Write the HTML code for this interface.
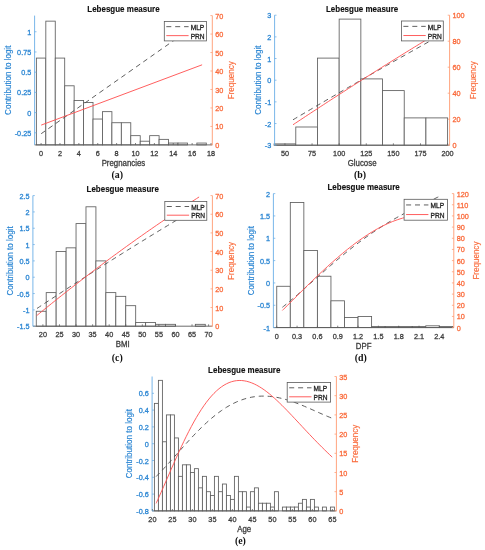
<!DOCTYPE html>
<html><head><meta charset="utf-8"><style>
html,body{margin:0;padding:0;background:#fff;}
body{width:485px;height:550px;overflow:hidden;}
svg{display:block;filter:blur(0.3px);}
text{font-family:"Liberation Sans",sans-serif;}
.tk{font-size:7.3px;}
.lb{font-size:8.05px;}
.xl{font-size:7.85px;}
.tt{font-size:8.0px;font-weight:bold;fill:#111;}
.lg{font-size:6.6px;fill:#222;}
.cp{font-family:"Liberation Serif",serif;font-size:9.9px;font-weight:bold;fill:#111;}
</style></head><body>
<svg width="485" height="550" viewBox="0 0 485 550">
<rect width="485" height="550" fill="#fff"/>
<rect x="36.38" y="58.08" width="9.44" height="86.82" fill="#fff" stroke="#5e5e5e" stroke-width="0.85"/>
<rect x="45.82" y="21.14" width="9.44" height="123.76" fill="#fff" stroke="#5e5e5e" stroke-width="0.85"/>
<rect x="55.26" y="58.08" width="9.44" height="86.82" fill="#fff" stroke="#5e5e5e" stroke-width="0.85"/>
<rect x="64.70" y="85.79" width="9.44" height="59.11" fill="#fff" stroke="#5e5e5e" stroke-width="0.85"/>
<rect x="74.14" y="100.57" width="9.44" height="44.33" fill="#fff" stroke="#5e5e5e" stroke-width="0.85"/>
<rect x="83.58" y="102.42" width="9.44" height="42.48" fill="#fff" stroke="#5e5e5e" stroke-width="0.85"/>
<rect x="93.02" y="119.04" width="9.44" height="25.86" fill="#fff" stroke="#5e5e5e" stroke-width="0.85"/>
<rect x="102.46" y="111.65" width="9.44" height="33.25" fill="#fff" stroke="#5e5e5e" stroke-width="0.85"/>
<rect x="111.90" y="122.73" width="9.44" height="22.17" fill="#fff" stroke="#5e5e5e" stroke-width="0.85"/>
<rect x="121.34" y="122.73" width="9.44" height="22.17" fill="#fff" stroke="#5e5e5e" stroke-width="0.85"/>
<rect x="130.78" y="135.66" width="9.44" height="9.24" fill="#fff" stroke="#5e5e5e" stroke-width="0.85"/>
<rect x="140.22" y="141.21" width="9.44" height="3.69" fill="#fff" stroke="#5e5e5e" stroke-width="0.85"/>
<rect x="149.66" y="135.66" width="9.44" height="9.24" fill="#fff" stroke="#5e5e5e" stroke-width="0.85"/>
<rect x="159.10" y="139.36" width="9.44" height="5.54" fill="#fff" stroke="#5e5e5e" stroke-width="0.85"/>
<rect x="168.54" y="143.05" width="9.44" height="1.85" fill="#fff" stroke="#5e5e5e" stroke-width="0.85"/>
<rect x="177.98" y="143.05" width="9.44" height="1.85" fill="#fff" stroke="#5e5e5e" stroke-width="0.85"/>
<rect x="196.86" y="143.05" width="9.44" height="1.85" fill="#fff" stroke="#5e5e5e" stroke-width="0.85"/>
<path d="M41.20,133.70 C63.42,118.08 149.70,57.43 174.50,40.00 C199.30,22.57 187.42,30.92 190.00,29.10" fill="none" stroke="#4d4d4d" stroke-width="0.9" stroke-dasharray="5.0 3.9" stroke-linejoin="round"/>
<path d="M41.20,125.10 L202.10,64.80" fill="none" stroke="#ff4d4d" stroke-width="0.9" stroke-linejoin="round"/>
<line x1="34.6" y1="144.9" x2="212.3" y2="144.9" stroke="#5a5a5a" stroke-width="0.9"/>
<line x1="34.6" y1="15.6" x2="34.6" y2="144.9" stroke="#6aaee6" stroke-width="0.9"/>
<line x1="212.3" y1="15.6" x2="212.3" y2="144.9" stroke="#ff9a70" stroke-width="0.9"/>
<line x1="41.10" y1="144.9" x2="41.10" y2="143.0" stroke="#5a5a5a" stroke-width="0.75"/>
<text transform="translate(41.10,156.10) scale(1,1.1)" class="tk" fill="#3d3d3d" stroke="#3d3d3d" stroke-width="0.28" text-anchor="middle">0</text>
<line x1="59.98" y1="144.9" x2="59.98" y2="143.0" stroke="#5a5a5a" stroke-width="0.75"/>
<text transform="translate(59.98,156.10) scale(1,1.1)" class="tk" fill="#3d3d3d" stroke="#3d3d3d" stroke-width="0.28" text-anchor="middle">2</text>
<line x1="78.86" y1="144.9" x2="78.86" y2="143.0" stroke="#5a5a5a" stroke-width="0.75"/>
<text transform="translate(78.86,156.10) scale(1,1.1)" class="tk" fill="#3d3d3d" stroke="#3d3d3d" stroke-width="0.28" text-anchor="middle">4</text>
<line x1="97.74" y1="144.9" x2="97.74" y2="143.0" stroke="#5a5a5a" stroke-width="0.75"/>
<text transform="translate(97.74,156.10) scale(1,1.1)" class="tk" fill="#3d3d3d" stroke="#3d3d3d" stroke-width="0.28" text-anchor="middle">6</text>
<line x1="116.62" y1="144.9" x2="116.62" y2="143.0" stroke="#5a5a5a" stroke-width="0.75"/>
<text transform="translate(116.62,156.10) scale(1,1.1)" class="tk" fill="#3d3d3d" stroke="#3d3d3d" stroke-width="0.28" text-anchor="middle">8</text>
<line x1="135.50" y1="144.9" x2="135.50" y2="143.0" stroke="#5a5a5a" stroke-width="0.75"/>
<text transform="translate(135.50,156.10) scale(1,1.1)" class="tk" fill="#3d3d3d" stroke="#3d3d3d" stroke-width="0.28" text-anchor="middle">10</text>
<line x1="154.38" y1="144.9" x2="154.38" y2="143.0" stroke="#5a5a5a" stroke-width="0.75"/>
<text transform="translate(154.38,156.10) scale(1,1.1)" class="tk" fill="#3d3d3d" stroke="#3d3d3d" stroke-width="0.28" text-anchor="middle">12</text>
<line x1="173.26" y1="144.9" x2="173.26" y2="143.0" stroke="#5a5a5a" stroke-width="0.75"/>
<text transform="translate(173.26,156.10) scale(1,1.1)" class="tk" fill="#3d3d3d" stroke="#3d3d3d" stroke-width="0.28" text-anchor="middle">14</text>
<line x1="192.14" y1="144.9" x2="192.14" y2="143.0" stroke="#5a5a5a" stroke-width="0.75"/>
<text transform="translate(192.14,156.10) scale(1,1.1)" class="tk" fill="#3d3d3d" stroke="#3d3d3d" stroke-width="0.28" text-anchor="middle">16</text>
<line x1="211.02" y1="144.9" x2="211.02" y2="143.0" stroke="#5a5a5a" stroke-width="0.75"/>
<text transform="translate(211.02,156.10) scale(1,1.1)" class="tk" fill="#3d3d3d" stroke="#3d3d3d" stroke-width="0.28" text-anchor="middle">18</text>
<line x1="34.6" y1="132.78" x2="36.5" y2="132.78" stroke="#6aaee6" stroke-width="0.75"/>
<text transform="translate(31.30,135.83) scale(1,1.1)" class="tk" fill="#2b86d3" stroke="#2b86d3" stroke-width="0.28" text-anchor="end">-0.25</text>
<line x1="34.6" y1="112.58" x2="36.5" y2="112.58" stroke="#6aaee6" stroke-width="0.75"/>
<text transform="translate(31.30,115.62) scale(1,1.1)" class="tk" fill="#2b86d3" stroke="#2b86d3" stroke-width="0.28" text-anchor="end">0</text>
<line x1="34.6" y1="92.37" x2="36.5" y2="92.37" stroke="#6aaee6" stroke-width="0.75"/>
<text transform="translate(31.30,95.42) scale(1,1.1)" class="tk" fill="#2b86d3" stroke="#2b86d3" stroke-width="0.28" text-anchor="end">0.25</text>
<line x1="34.6" y1="72.17" x2="36.5" y2="72.17" stroke="#6aaee6" stroke-width="0.75"/>
<text transform="translate(31.30,75.22) scale(1,1.1)" class="tk" fill="#2b86d3" stroke="#2b86d3" stroke-width="0.28" text-anchor="end">0.5</text>
<line x1="34.6" y1="51.97" x2="36.5" y2="51.97" stroke="#6aaee6" stroke-width="0.75"/>
<text transform="translate(31.30,55.02) scale(1,1.1)" class="tk" fill="#2b86d3" stroke="#2b86d3" stroke-width="0.28" text-anchor="end">0.75</text>
<line x1="34.6" y1="31.76" x2="36.5" y2="31.76" stroke="#6aaee6" stroke-width="0.75"/>
<text transform="translate(31.30,34.81) scale(1,1.1)" class="tk" fill="#2b86d3" stroke="#2b86d3" stroke-width="0.28" text-anchor="end">1</text>
<line x1="212.3" y1="144.90" x2="210.4" y2="144.90" stroke="#ff9a70" stroke-width="0.75"/>
<text transform="translate(215.20,147.95) scale(1,1.1)" class="tk" fill="#fa6a3a" stroke="#fa6a3a" stroke-width="0.28">0</text>
<line x1="212.3" y1="126.43" x2="210.4" y2="126.43" stroke="#ff9a70" stroke-width="0.75"/>
<text transform="translate(215.20,129.48) scale(1,1.1)" class="tk" fill="#fa6a3a" stroke="#fa6a3a" stroke-width="0.28">10</text>
<line x1="212.3" y1="107.96" x2="210.4" y2="107.96" stroke="#ff9a70" stroke-width="0.75"/>
<text transform="translate(215.20,111.01) scale(1,1.1)" class="tk" fill="#fa6a3a" stroke="#fa6a3a" stroke-width="0.28">20</text>
<line x1="212.3" y1="89.49" x2="210.4" y2="89.49" stroke="#ff9a70" stroke-width="0.75"/>
<text transform="translate(215.20,92.54) scale(1,1.1)" class="tk" fill="#fa6a3a" stroke="#fa6a3a" stroke-width="0.28">30</text>
<line x1="212.3" y1="71.01" x2="210.4" y2="71.01" stroke="#ff9a70" stroke-width="0.75"/>
<text transform="translate(215.20,74.06) scale(1,1.1)" class="tk" fill="#fa6a3a" stroke="#fa6a3a" stroke-width="0.28">40</text>
<line x1="212.3" y1="52.54" x2="210.4" y2="52.54" stroke="#ff9a70" stroke-width="0.75"/>
<text transform="translate(215.20,55.59) scale(1,1.1)" class="tk" fill="#fa6a3a" stroke="#fa6a3a" stroke-width="0.28">50</text>
<line x1="212.3" y1="34.07" x2="210.4" y2="34.07" stroke="#ff9a70" stroke-width="0.75"/>
<text transform="translate(215.20,37.12) scale(1,1.1)" class="tk" fill="#fa6a3a" stroke="#fa6a3a" stroke-width="0.28">60</text>
<line x1="212.3" y1="15.60" x2="210.4" y2="15.60" stroke="#ff9a70" stroke-width="0.75"/>
<text transform="translate(215.20,18.65) scale(1,1.1)" class="tk" fill="#fa6a3a" stroke="#fa6a3a" stroke-width="0.28">70</text>
<rect x="164.3" y="21.4" width="42.10" height="19.50" fill="#fff" stroke="#5a5a5a" stroke-width="0.8"/>
<line x1="166.30" y1="26.66" x2="188.60" y2="26.66" stroke="#4d4d4d" stroke-width="0.9" stroke-dasharray="5.0 3.9"/>
<line x1="166.30" y1="35.63" x2="188.60" y2="35.63" stroke="#ff4d4d" stroke-width="0.9"/>
<text transform="translate(190.70,29.80) scale(1,1.1)" class="lg" fill="#222" stroke="#222" stroke-width="0.28">MLP</text>
<text transform="translate(190.70,38.77) scale(1,1.1)" class="lg" fill="#222" stroke="#222" stroke-width="0.28">PRN</text>
<text transform="translate(123.45,12.30) scale(1,1.1)" class="tt" fill="#111" stroke="#111" stroke-width="0.12" text-anchor="middle">Lebesgue measure</text>
<text transform="translate(123.45,165.60) scale(1,1.1)" class="xl" fill="#3d3d3d" stroke="#3d3d3d" stroke-width="0.28" text-anchor="middle">Pregnancies</text>
<text transform="translate(11.00,80.25) rotate(-90) scale(1,1.1)" class="lb" fill="#2b86d3" stroke="#2b86d3" stroke-width="0.15" text-anchor="middle">Contribution to logit</text>
<text transform="translate(233.50,80.25) rotate(-90) scale(1,1.1)" class="lb" fill="#fa6a3a" stroke="#fa6a3a" stroke-width="0.15" text-anchor="middle">Frequency</text>
<text transform="translate(117.30,178.30) scale(1,1.0)" class="cp" fill="#111" text-anchor="middle">(a)</text>
<rect x="274.10" y="143.90" width="21.69" height="1.30" fill="#fff" stroke="#5e5e5e" stroke-width="0.85"/>
<rect x="295.79" y="127.00" width="21.69" height="18.20" fill="#fff" stroke="#5e5e5e" stroke-width="0.85"/>
<rect x="317.48" y="58.10" width="21.69" height="87.10" fill="#fff" stroke="#5e5e5e" stroke-width="0.85"/>
<rect x="339.16" y="19.10" width="21.69" height="126.10" fill="#fff" stroke="#5e5e5e" stroke-width="0.85"/>
<rect x="360.85" y="78.90" width="21.69" height="66.30" fill="#fff" stroke="#5e5e5e" stroke-width="0.85"/>
<rect x="382.54" y="90.60" width="21.69" height="54.60" fill="#fff" stroke="#5e5e5e" stroke-width="0.85"/>
<rect x="404.23" y="117.90" width="21.69" height="27.30" fill="#fff" stroke="#5e5e5e" stroke-width="0.85"/>
<rect x="425.92" y="117.90" width="21.69" height="27.30" fill="#fff" stroke="#5e5e5e" stroke-width="0.85"/>
<path d="M293.00,119.79 C293.42,119.54 294.68,118.80 295.53,118.30 C296.37,117.80 297.21,117.30 298.05,116.80 C298.90,116.31 299.74,115.81 300.58,115.31 C301.42,114.82 302.27,114.32 303.11,113.82 C303.95,113.33 304.79,112.83 305.64,112.34 C306.48,111.84 307.32,111.34 308.16,110.85 C309.01,110.35 309.85,109.86 310.69,109.36 C311.53,108.87 312.38,108.38 313.22,107.88 C314.06,107.39 314.90,106.89 315.75,106.40 C316.59,105.91 317.43,105.41 318.27,104.92 C319.12,104.43 319.96,103.93 320.80,103.44 C321.64,102.95 322.48,102.46 323.33,101.96 C324.17,101.47 325.01,100.98 325.85,100.49 C326.70,100.00 327.54,99.51 328.38,99.02 C329.22,98.53 330.07,98.03 330.91,97.54 C331.75,97.05 332.59,96.56 333.44,96.07 C334.28,95.58 335.12,95.09 335.96,94.61 C336.81,94.12 337.65,93.63 338.49,93.14 C339.33,92.65 340.18,92.16 341.02,91.67 C341.86,91.18 342.70,90.70 343.55,90.21 C344.39,89.72 345.23,89.23 346.07,88.75 C346.92,88.26 347.76,87.77 348.60,87.29 C349.44,86.80 350.28,86.31 351.13,85.83 C351.97,85.34 352.81,84.85 353.65,84.37 C354.50,83.88 355.34,83.40 356.18,82.91 C357.02,82.43 357.87,81.94 358.71,81.46 C359.55,80.97 360.39,80.49 361.24,80.01 C362.08,79.52 362.92,79.04 363.76,78.56 C364.61,78.07 365.45,77.59 366.29,77.11 C367.13,76.62 367.98,76.14 368.82,75.66 C369.66,75.18 370.50,74.69 371.35,74.21 C372.19,73.73 373.03,73.25 373.87,72.77 C374.72,72.29 375.56,71.80 376.40,71.32 C377.24,70.84 378.08,70.36 378.93,69.88 C379.77,69.40 380.61,68.92 381.45,68.44 C382.30,67.96 383.14,67.48 383.98,67.00 C384.82,66.53 385.67,66.05 386.51,65.57 C387.35,65.09 388.19,64.61 389.04,64.13 C389.88,63.66 390.72,63.18 391.56,62.70 C392.41,62.22 393.25,61.74 394.09,61.27 C394.93,60.79 395.78,60.31 396.62,59.84 C397.46,59.36 398.30,58.89 399.15,58.41 C399.99,57.93 400.83,57.46 401.67,56.98 C402.52,56.51 403.36,56.03 404.20,55.56 C405.04,55.08 405.88,54.61 406.73,54.13 C407.57,53.66 408.41,53.18 409.25,52.71 C410.10,52.24 410.94,51.76 411.78,51.29 C412.62,50.82 413.47,50.34 414.31,49.87 C415.15,49.40 415.99,48.93 416.84,48.45 C417.68,47.98 418.52,47.51 419.36,47.04 C420.21,46.57 421.05,46.10 421.89,45.62 C422.73,45.15 423.58,44.68 424.42,44.21 C425.26,43.74 426.10,43.27 426.95,42.80 C427.79,42.33 428.63,41.86 429.47,41.39 C430.32,40.92 431.58,40.22 432.00,39.98" fill="none" stroke="#4d4d4d" stroke-width="0.9" stroke-dasharray="5.0 3.9" stroke-linejoin="round"/>
<path d="M293.00,124.76 C293.42,124.48 294.68,123.64 295.53,123.08 C296.37,122.53 297.21,121.97 298.05,121.41 C298.90,120.85 299.74,120.29 300.58,119.74 C301.42,119.18 302.27,118.62 303.11,118.07 C303.95,117.51 304.79,116.95 305.64,116.40 C306.48,115.84 307.32,115.29 308.16,114.73 C309.01,114.18 309.85,113.62 310.69,113.07 C311.53,112.52 312.38,111.96 313.22,111.41 C314.06,110.86 314.90,110.31 315.75,109.75 C316.59,109.20 317.43,108.65 318.27,108.10 C319.12,107.55 319.96,107.00 320.80,106.45 C321.64,105.90 322.48,105.35 323.33,104.80 C324.17,104.25 325.01,103.70 325.85,103.15 C326.70,102.60 327.54,102.06 328.38,101.51 C329.22,100.96 330.07,100.41 330.91,99.87 C331.75,99.32 332.59,98.77 333.44,98.23 C334.28,97.68 335.12,97.14 335.96,96.59 C336.81,96.05 337.65,95.50 338.49,94.96 C339.33,94.42 340.18,93.87 341.02,93.33 C341.86,92.79 342.70,92.24 343.55,91.70 C344.39,91.16 345.23,90.62 346.07,90.07 C346.92,89.53 347.76,88.99 348.60,88.45 C349.44,87.91 350.28,87.37 351.13,86.83 C351.97,86.29 352.81,85.75 353.65,85.21 C354.50,84.68 355.34,84.14 356.18,83.60 C357.02,83.06 357.87,82.52 358.71,81.99 C359.55,81.45 360.39,80.91 361.24,80.38 C362.08,79.84 362.92,79.31 363.76,78.77 C364.61,78.23 365.45,77.70 366.29,77.17 C367.13,76.63 367.98,76.10 368.82,75.56 C369.66,75.03 370.50,74.50 371.35,73.96 C372.19,73.43 373.03,72.90 373.87,72.37 C374.72,71.84 375.56,71.31 376.40,70.77 C377.24,70.24 378.08,69.71 378.93,69.18 C379.77,68.65 380.61,68.12 381.45,67.59 C382.30,67.07 383.14,66.54 383.98,66.01 C384.82,65.48 385.67,64.95 386.51,64.43 C387.35,63.90 388.19,63.37 389.04,62.84 C389.88,62.32 390.72,61.79 391.56,61.27 C392.41,60.74 393.25,60.22 394.09,59.69 C394.93,59.17 395.78,58.64 396.62,58.12 C397.46,57.59 398.30,57.07 399.15,56.55 C399.99,56.02 400.83,55.50 401.67,54.98 C402.52,54.46 403.36,53.94 404.20,53.42 C405.04,52.89 405.88,52.37 406.73,51.85 C407.57,51.33 408.41,50.81 409.25,50.29 C410.10,49.77 410.94,49.25 411.78,48.74 C412.62,48.22 413.47,47.70 414.31,47.18 C415.15,46.66 415.99,46.15 416.84,45.63 C417.68,45.11 418.52,44.60 419.36,44.08 C420.21,43.56 421.05,43.05 421.89,42.53 C422.73,42.02 423.58,41.50 424.42,40.99 C425.26,40.48 426.10,39.96 426.95,39.45 C427.79,38.94 428.63,38.42 429.47,37.91 C430.32,37.40 431.58,36.63 432.00,36.37" fill="none" stroke="#ff4d4d" stroke-width="0.9" stroke-linejoin="round"/>
<line x1="274.6" y1="145.2" x2="449.6" y2="145.2" stroke="#5a5a5a" stroke-width="0.9"/>
<line x1="274.6" y1="15.2" x2="274.6" y2="145.2" stroke="#6aaee6" stroke-width="0.9"/>
<line x1="449.6" y1="15.2" x2="449.6" y2="145.2" stroke="#ff9a70" stroke-width="0.9"/>
<line x1="284.94" y1="145.2" x2="284.94" y2="143.29999999999998" stroke="#5a5a5a" stroke-width="0.75"/>
<text transform="translate(284.94,156.40) scale(1,1.1)" class="tk" fill="#3d3d3d" stroke="#3d3d3d" stroke-width="0.28" text-anchor="middle">50</text>
<line x1="312.05" y1="145.2" x2="312.05" y2="143.29999999999998" stroke="#5a5a5a" stroke-width="0.75"/>
<text transform="translate(312.05,156.40) scale(1,1.1)" class="tk" fill="#3d3d3d" stroke="#3d3d3d" stroke-width="0.28" text-anchor="middle">75</text>
<line x1="339.16" y1="145.2" x2="339.16" y2="143.29999999999998" stroke="#5a5a5a" stroke-width="0.75"/>
<text transform="translate(339.16,156.40) scale(1,1.1)" class="tk" fill="#3d3d3d" stroke="#3d3d3d" stroke-width="0.28" text-anchor="middle">100</text>
<line x1="366.27" y1="145.2" x2="366.27" y2="143.29999999999998" stroke="#5a5a5a" stroke-width="0.75"/>
<text transform="translate(366.27,156.40) scale(1,1.1)" class="tk" fill="#3d3d3d" stroke="#3d3d3d" stroke-width="0.28" text-anchor="middle">125</text>
<line x1="393.38" y1="145.2" x2="393.38" y2="143.29999999999998" stroke="#5a5a5a" stroke-width="0.75"/>
<text transform="translate(393.38,156.40) scale(1,1.1)" class="tk" fill="#3d3d3d" stroke="#3d3d3d" stroke-width="0.28" text-anchor="middle">150</text>
<line x1="420.49" y1="145.2" x2="420.49" y2="143.29999999999998" stroke="#5a5a5a" stroke-width="0.75"/>
<text transform="translate(420.49,156.40) scale(1,1.1)" class="tk" fill="#3d3d3d" stroke="#3d3d3d" stroke-width="0.28" text-anchor="middle">175</text>
<line x1="447.60" y1="145.2" x2="447.60" y2="143.29999999999998" stroke="#5a5a5a" stroke-width="0.75"/>
<text transform="translate(447.60,156.40) scale(1,1.1)" class="tk" fill="#3d3d3d" stroke="#3d3d3d" stroke-width="0.28" text-anchor="middle">200</text>
<line x1="274.6" y1="145.20" x2="276.5" y2="145.20" stroke="#6aaee6" stroke-width="0.75"/>
<text transform="translate(271.30,148.25) scale(1,1.1)" class="tk" fill="#2b86d3" stroke="#2b86d3" stroke-width="0.28" text-anchor="end">-3</text>
<line x1="274.6" y1="123.53" x2="276.5" y2="123.53" stroke="#6aaee6" stroke-width="0.75"/>
<text transform="translate(271.30,126.58) scale(1,1.1)" class="tk" fill="#2b86d3" stroke="#2b86d3" stroke-width="0.28" text-anchor="end">-2</text>
<line x1="274.6" y1="101.87" x2="276.5" y2="101.87" stroke="#6aaee6" stroke-width="0.75"/>
<text transform="translate(271.30,104.92) scale(1,1.1)" class="tk" fill="#2b86d3" stroke="#2b86d3" stroke-width="0.28" text-anchor="end">-1</text>
<line x1="274.6" y1="80.20" x2="276.5" y2="80.20" stroke="#6aaee6" stroke-width="0.75"/>
<text transform="translate(271.30,83.25) scale(1,1.1)" class="tk" fill="#2b86d3" stroke="#2b86d3" stroke-width="0.28" text-anchor="end">0</text>
<line x1="274.6" y1="58.53" x2="276.5" y2="58.53" stroke="#6aaee6" stroke-width="0.75"/>
<text transform="translate(271.30,61.58) scale(1,1.1)" class="tk" fill="#2b86d3" stroke="#2b86d3" stroke-width="0.28" text-anchor="end">1</text>
<line x1="274.6" y1="36.87" x2="276.5" y2="36.87" stroke="#6aaee6" stroke-width="0.75"/>
<text transform="translate(271.30,39.92) scale(1,1.1)" class="tk" fill="#2b86d3" stroke="#2b86d3" stroke-width="0.28" text-anchor="end">2</text>
<line x1="274.6" y1="15.20" x2="276.5" y2="15.20" stroke="#6aaee6" stroke-width="0.75"/>
<text transform="translate(271.30,18.25) scale(1,1.1)" class="tk" fill="#2b86d3" stroke="#2b86d3" stroke-width="0.28" text-anchor="end">3</text>
<line x1="449.6" y1="145.20" x2="447.70000000000005" y2="145.20" stroke="#ff9a70" stroke-width="0.75"/>
<text transform="translate(452.50,148.25) scale(1,1.1)" class="tk" fill="#fa6a3a" stroke="#fa6a3a" stroke-width="0.28">0</text>
<line x1="449.6" y1="119.20" x2="447.70000000000005" y2="119.20" stroke="#ff9a70" stroke-width="0.75"/>
<text transform="translate(452.50,122.25) scale(1,1.1)" class="tk" fill="#fa6a3a" stroke="#fa6a3a" stroke-width="0.28">20</text>
<line x1="449.6" y1="93.20" x2="447.70000000000005" y2="93.20" stroke="#ff9a70" stroke-width="0.75"/>
<text transform="translate(452.50,96.25) scale(1,1.1)" class="tk" fill="#fa6a3a" stroke="#fa6a3a" stroke-width="0.28">40</text>
<line x1="449.6" y1="67.20" x2="447.70000000000005" y2="67.20" stroke="#ff9a70" stroke-width="0.75"/>
<text transform="translate(452.50,70.25) scale(1,1.1)" class="tk" fill="#fa6a3a" stroke="#fa6a3a" stroke-width="0.28">60</text>
<line x1="449.6" y1="41.20" x2="447.70000000000005" y2="41.20" stroke="#ff9a70" stroke-width="0.75"/>
<text transform="translate(452.50,44.25) scale(1,1.1)" class="tk" fill="#fa6a3a" stroke="#fa6a3a" stroke-width="0.28">80</text>
<line x1="449.6" y1="15.20" x2="447.70000000000005" y2="15.20" stroke="#ff9a70" stroke-width="0.75"/>
<text transform="translate(452.50,18.25) scale(1,1.1)" class="tk" fill="#fa6a3a" stroke="#fa6a3a" stroke-width="0.28">100</text>
<rect x="401.4" y="21.0" width="41.90" height="19.90" fill="#fff" stroke="#5a5a5a" stroke-width="0.8"/>
<line x1="403.40" y1="26.37" x2="425.70" y2="26.37" stroke="#4d4d4d" stroke-width="0.9" stroke-dasharray="5.0 3.9"/>
<line x1="403.40" y1="35.53" x2="425.70" y2="35.53" stroke="#ff4d4d" stroke-width="0.9"/>
<text transform="translate(427.80,29.50) scale(1,1.1)" class="lg" fill="#222" stroke="#222" stroke-width="0.28">MLP</text>
<text transform="translate(427.80,38.66) scale(1,1.1)" class="lg" fill="#222" stroke="#222" stroke-width="0.28">PRN</text>
<text transform="translate(362.10,12.30) scale(1,1.1)" class="tt" fill="#111" stroke="#111" stroke-width="0.12" text-anchor="middle">Lebesgue measure</text>
<text transform="translate(362.10,165.60) scale(1,1.1)" class="xl" fill="#3d3d3d" stroke="#3d3d3d" stroke-width="0.28" text-anchor="middle">Glucose</text>
<text transform="translate(260.60,80.20) rotate(-90) scale(1,1.1)" class="lb" fill="#2b86d3" stroke="#2b86d3" stroke-width="0.15" text-anchor="middle">Contribution to logit</text>
<text transform="translate(475.80,80.20) rotate(-90) scale(1,1.1)" class="lb" fill="#fa6a3a" stroke="#fa6a3a" stroke-width="0.15" text-anchor="middle">Frequency</text>
<text transform="translate(360.00,178.30) scale(1,1.0)" class="cp" fill="#111" text-anchor="middle">(b)</text>
<rect x="36.27" y="311.27" width="9.94" height="14.93" fill="#fff" stroke="#5e5e5e" stroke-width="0.85"/>
<rect x="46.21" y="292.62" width="9.94" height="33.58" fill="#fff" stroke="#5e5e5e" stroke-width="0.85"/>
<rect x="56.16" y="251.57" width="9.94" height="74.63" fill="#fff" stroke="#5e5e5e" stroke-width="0.85"/>
<rect x="66.10" y="247.84" width="9.94" height="78.36" fill="#fff" stroke="#5e5e5e" stroke-width="0.85"/>
<rect x="76.04" y="223.59" width="9.94" height="102.61" fill="#fff" stroke="#5e5e5e" stroke-width="0.85"/>
<rect x="85.98" y="206.79" width="9.94" height="119.41" fill="#fff" stroke="#5e5e5e" stroke-width="0.85"/>
<rect x="95.92" y="260.90" width="9.94" height="65.30" fill="#fff" stroke="#5e5e5e" stroke-width="0.85"/>
<rect x="105.87" y="292.62" width="9.94" height="33.58" fill="#fff" stroke="#5e5e5e" stroke-width="0.85"/>
<rect x="115.81" y="296.35" width="9.94" height="29.85" fill="#fff" stroke="#5e5e5e" stroke-width="0.85"/>
<rect x="125.75" y="305.68" width="9.94" height="20.52" fill="#fff" stroke="#5e5e5e" stroke-width="0.85"/>
<rect x="135.69" y="322.47" width="9.94" height="3.73" fill="#fff" stroke="#5e5e5e" stroke-width="0.85"/>
<rect x="145.63" y="322.47" width="9.94" height="3.73" fill="#fff" stroke="#5e5e5e" stroke-width="0.85"/>
<rect x="155.58" y="324.33" width="9.94" height="1.87" fill="#fff" stroke="#5e5e5e" stroke-width="0.85"/>
<rect x="165.52" y="324.33" width="9.94" height="1.87" fill="#fff" stroke="#5e5e5e" stroke-width="0.85"/>
<rect x="195.34" y="324.33" width="9.94" height="1.87" fill="#fff" stroke="#5e5e5e" stroke-width="0.85"/>
<path d="M37.00,308.45 C37.42,308.17 38.67,307.34 39.51,306.78 C40.34,306.23 41.18,305.67 42.02,305.12 C42.85,304.57 43.69,304.01 44.52,303.46 C45.36,302.91 46.20,302.36 47.03,301.81 C47.87,301.25 48.70,300.70 49.54,300.15 C50.38,299.60 51.21,299.05 52.05,298.50 C52.88,297.95 53.72,297.40 54.56,296.86 C55.39,296.31 56.23,295.76 57.06,295.21 C57.90,294.66 58.74,294.12 59.57,293.57 C60.41,293.02 61.24,292.48 62.08,291.93 C62.92,291.39 63.75,290.84 64.59,290.30 C65.42,289.75 66.26,289.21 67.10,288.66 C67.93,288.12 68.77,287.58 69.60,287.03 C70.44,286.49 71.28,285.95 72.11,285.41 C72.95,284.87 73.78,284.32 74.62,283.78 C75.46,283.24 76.29,282.70 77.13,282.16 C77.96,281.62 78.80,281.08 79.63,280.54 C80.47,280.00 81.31,279.47 82.14,278.93 C82.98,278.39 83.81,277.85 84.65,277.32 C85.49,276.78 86.32,276.24 87.16,275.71 C87.99,275.17 88.83,274.63 89.67,274.10 C90.50,273.56 91.34,273.03 92.17,272.49 C93.01,271.96 93.85,271.43 94.68,270.89 C95.52,270.36 96.35,269.83 97.19,269.29 C98.03,268.76 98.86,268.23 99.70,267.70 C100.53,267.17 101.37,266.64 102.21,266.11 C103.04,265.58 103.88,265.05 104.71,264.52 C105.55,263.99 106.39,263.46 107.22,262.93 C108.06,262.40 108.89,261.87 109.73,261.35 C110.57,260.82 111.40,260.29 112.24,259.76 C113.07,259.24 113.91,258.71 114.75,258.19 C115.58,257.66 116.42,257.14 117.25,256.61 C118.09,256.09 118.93,255.56 119.76,255.04 C120.60,254.51 121.43,253.99 122.27,253.47 C123.11,252.94 123.94,252.42 124.78,251.90 C125.61,251.38 126.45,250.86 127.29,250.34 C128.12,249.82 128.96,249.30 129.79,248.78 C130.63,248.26 131.47,247.74 132.30,247.22 C133.14,246.70 133.97,246.18 134.81,245.66 C135.65,245.14 136.48,244.63 137.32,244.11 C138.15,243.59 138.99,243.07 139.83,242.56 C140.66,242.04 141.50,241.53 142.33,241.01 C143.17,240.50 144.01,239.98 144.84,239.47 C145.68,238.95 146.51,238.44 147.35,237.93 C148.19,237.41 149.02,236.90 149.86,236.39 C150.69,235.88 151.53,235.36 152.37,234.85 C153.20,234.34 154.04,233.83 154.87,233.32 C155.71,232.81 156.54,232.30 157.38,231.79 C158.22,231.28 159.05,230.77 159.89,230.26 C160.72,229.75 161.56,229.25 162.40,228.74 C163.23,228.23 164.07,227.72 164.90,227.22 C165.74,226.71 166.58,226.20 167.41,225.70 C168.25,225.19 169.08,224.69 169.92,224.18 C170.76,223.68 171.59,223.17 172.43,222.67 C173.26,222.17 174.10,221.66 174.94,221.16 C175.77,220.66 176.61,220.15 177.44,219.65 C178.28,219.15 179.12,218.65 179.95,218.15 C180.79,217.65 181.62,217.15 182.46,216.65 C183.30,216.15 184.13,215.65 184.97,215.15 C185.80,214.65 186.64,214.15 187.48,213.65 C188.31,213.15 189.15,212.66 189.98,212.16 C190.82,211.66 191.66,211.17 192.49,210.67 C193.33,210.17 194.58,209.43 195.00,209.18" fill="none" stroke="#4d4d4d" stroke-width="0.9" stroke-dasharray="5.0 3.9" stroke-linejoin="round"/>
<path d="M36.60,315.69 C37.02,315.35 38.27,314.33 39.10,313.65 C39.93,312.97 40.77,312.29 41.60,311.61 C42.43,310.93 43.27,310.26 44.10,309.58 C44.93,308.91 45.77,308.23 46.60,307.56 C47.43,306.88 48.27,306.21 49.10,305.54 C49.93,304.87 50.77,304.20 51.60,303.53 C52.43,302.86 53.27,302.19 54.10,301.53 C54.93,300.86 55.77,300.19 56.60,299.53 C57.43,298.86 58.27,298.20 59.10,297.54 C59.93,296.88 60.77,296.22 61.60,295.56 C62.43,294.90 63.27,294.24 64.10,293.58 C64.93,292.92 65.77,292.27 66.60,291.61 C67.43,290.96 68.27,290.30 69.10,289.65 C69.93,288.99 70.77,288.34 71.60,287.69 C72.43,287.04 73.27,286.39 74.10,285.74 C74.93,285.09 75.77,284.45 76.60,283.80 C77.43,283.15 78.27,282.51 79.10,281.86 C79.93,281.22 80.77,280.58 81.60,279.94 C82.43,279.29 83.27,278.65 84.10,278.01 C84.93,277.37 85.77,276.74 86.60,276.10 C87.43,275.46 88.27,274.83 89.10,274.19 C89.93,273.56 90.77,272.92 91.60,272.29 C92.43,271.66 93.27,271.03 94.10,270.39 C94.93,269.76 95.77,269.14 96.60,268.51 C97.43,267.88 98.27,267.25 99.10,266.63 C99.93,266.00 100.77,265.38 101.60,264.75 C102.43,264.13 103.27,263.51 104.10,262.88 C104.93,262.26 105.77,261.64 106.60,261.02 C107.43,260.40 108.27,259.79 109.10,259.17 C109.93,258.55 110.77,257.94 111.60,257.32 C112.43,256.71 113.27,256.09 114.10,255.48 C114.93,254.87 115.77,254.26 116.60,253.65 C117.43,253.04 118.27,252.43 119.10,251.82 C119.93,251.21 120.77,250.61 121.60,250.00 C122.43,249.40 123.27,248.79 124.10,248.19 C124.93,247.59 125.77,246.98 126.60,246.38 C127.43,245.78 128.27,245.18 129.10,244.58 C129.93,243.99 130.77,243.39 131.60,242.79 C132.43,242.20 133.27,241.60 134.10,241.01 C134.93,240.41 135.77,239.82 136.60,239.23 C137.43,238.63 138.27,238.04 139.10,237.45 C139.93,236.86 140.77,236.28 141.60,235.69 C142.43,235.10 143.27,234.52 144.10,233.93 C144.93,233.35 145.77,232.76 146.60,232.18 C147.43,231.60 148.27,231.01 149.10,230.43 C149.93,229.85 150.77,229.27 151.60,228.70 C152.43,228.12 153.27,227.54 154.10,226.96 C154.93,226.39 155.77,225.81 156.60,225.24 C157.43,224.67 158.27,224.09 159.10,223.52 C159.93,222.95 160.77,222.38 161.60,221.81 C162.43,221.24 163.27,220.67 164.10,220.11 C164.93,219.54 165.77,218.97 166.60,218.41 C167.43,217.85 168.27,217.28 169.10,216.72 C169.93,216.16 170.77,215.60 171.60,215.04 C172.43,214.48 173.27,213.92 174.10,213.36 C174.93,212.80 175.77,212.24 176.60,211.69 C177.43,211.13 178.27,210.58 179.10,210.03 C179.93,209.47 180.77,208.92 181.60,208.37 C182.43,207.82 183.27,207.27 184.10,206.72 C184.93,206.17 185.77,205.62 186.60,205.08 C187.43,204.53 188.27,203.98 189.10,203.44 C189.93,202.90 190.77,202.35 191.60,201.81 C192.43,201.27 193.27,200.73 194.10,200.19 C194.93,199.65 195.77,199.11 196.60,198.57 C197.43,198.04 198.68,197.23 199.10,196.96" fill="none" stroke="#ff4d4d" stroke-width="0.9" stroke-linejoin="round"/>
<line x1="32.9" y1="326.2" x2="212.4" y2="326.2" stroke="#5a5a5a" stroke-width="0.9"/>
<line x1="32.9" y1="195.6" x2="32.9" y2="326.2" stroke="#6aaee6" stroke-width="0.9"/>
<line x1="212.4" y1="195.6" x2="212.4" y2="326.2" stroke="#ff9a70" stroke-width="0.9"/>
<line x1="42.90" y1="326.2" x2="42.90" y2="324.3" stroke="#5a5a5a" stroke-width="0.75"/>
<text transform="translate(42.90,337.40) scale(1,1.1)" class="tk" fill="#3d3d3d" stroke="#3d3d3d" stroke-width="0.28" text-anchor="middle">20</text>
<line x1="59.47" y1="326.2" x2="59.47" y2="324.3" stroke="#5a5a5a" stroke-width="0.75"/>
<text transform="translate(59.47,337.40) scale(1,1.1)" class="tk" fill="#3d3d3d" stroke="#3d3d3d" stroke-width="0.28" text-anchor="middle">25</text>
<line x1="76.04" y1="326.2" x2="76.04" y2="324.3" stroke="#5a5a5a" stroke-width="0.75"/>
<text transform="translate(76.04,337.40) scale(1,1.1)" class="tk" fill="#3d3d3d" stroke="#3d3d3d" stroke-width="0.28" text-anchor="middle">30</text>
<line x1="92.61" y1="326.2" x2="92.61" y2="324.3" stroke="#5a5a5a" stroke-width="0.75"/>
<text transform="translate(92.61,337.40) scale(1,1.1)" class="tk" fill="#3d3d3d" stroke="#3d3d3d" stroke-width="0.28" text-anchor="middle">35</text>
<line x1="109.18" y1="326.2" x2="109.18" y2="324.3" stroke="#5a5a5a" stroke-width="0.75"/>
<text transform="translate(109.18,337.40) scale(1,1.1)" class="tk" fill="#3d3d3d" stroke="#3d3d3d" stroke-width="0.28" text-anchor="middle">40</text>
<line x1="125.75" y1="326.2" x2="125.75" y2="324.3" stroke="#5a5a5a" stroke-width="0.75"/>
<text transform="translate(125.75,337.40) scale(1,1.1)" class="tk" fill="#3d3d3d" stroke="#3d3d3d" stroke-width="0.28" text-anchor="middle">45</text>
<line x1="142.32" y1="326.2" x2="142.32" y2="324.3" stroke="#5a5a5a" stroke-width="0.75"/>
<text transform="translate(142.32,337.40) scale(1,1.1)" class="tk" fill="#3d3d3d" stroke="#3d3d3d" stroke-width="0.28" text-anchor="middle">50</text>
<line x1="158.89" y1="326.2" x2="158.89" y2="324.3" stroke="#5a5a5a" stroke-width="0.75"/>
<text transform="translate(158.89,337.40) scale(1,1.1)" class="tk" fill="#3d3d3d" stroke="#3d3d3d" stroke-width="0.28" text-anchor="middle">55</text>
<line x1="175.46" y1="326.2" x2="175.46" y2="324.3" stroke="#5a5a5a" stroke-width="0.75"/>
<text transform="translate(175.46,337.40) scale(1,1.1)" class="tk" fill="#3d3d3d" stroke="#3d3d3d" stroke-width="0.28" text-anchor="middle">60</text>
<line x1="192.03" y1="326.2" x2="192.03" y2="324.3" stroke="#5a5a5a" stroke-width="0.75"/>
<text transform="translate(192.03,337.40) scale(1,1.1)" class="tk" fill="#3d3d3d" stroke="#3d3d3d" stroke-width="0.28" text-anchor="middle">65</text>
<line x1="208.60" y1="326.2" x2="208.60" y2="324.3" stroke="#5a5a5a" stroke-width="0.75"/>
<text transform="translate(208.60,337.40) scale(1,1.1)" class="tk" fill="#3d3d3d" stroke="#3d3d3d" stroke-width="0.28" text-anchor="middle">70</text>
<line x1="32.9" y1="326.20" x2="34.8" y2="326.20" stroke="#6aaee6" stroke-width="0.75"/>
<text transform="translate(29.60,329.25) scale(1,1.1)" class="tk" fill="#2b86d3" stroke="#2b86d3" stroke-width="0.28" text-anchor="end">-1.5</text>
<line x1="32.9" y1="309.88" x2="34.8" y2="309.88" stroke="#6aaee6" stroke-width="0.75"/>
<text transform="translate(29.60,312.93) scale(1,1.1)" class="tk" fill="#2b86d3" stroke="#2b86d3" stroke-width="0.28" text-anchor="end">-1</text>
<line x1="32.9" y1="293.55" x2="34.8" y2="293.55" stroke="#6aaee6" stroke-width="0.75"/>
<text transform="translate(29.60,296.60) scale(1,1.1)" class="tk" fill="#2b86d3" stroke="#2b86d3" stroke-width="0.28" text-anchor="end">-0.5</text>
<line x1="32.9" y1="277.23" x2="34.8" y2="277.23" stroke="#6aaee6" stroke-width="0.75"/>
<text transform="translate(29.60,280.28) scale(1,1.1)" class="tk" fill="#2b86d3" stroke="#2b86d3" stroke-width="0.28" text-anchor="end">0</text>
<line x1="32.9" y1="260.90" x2="34.8" y2="260.90" stroke="#6aaee6" stroke-width="0.75"/>
<text transform="translate(29.60,263.95) scale(1,1.1)" class="tk" fill="#2b86d3" stroke="#2b86d3" stroke-width="0.28" text-anchor="end">0.5</text>
<line x1="32.9" y1="244.57" x2="34.8" y2="244.57" stroke="#6aaee6" stroke-width="0.75"/>
<text transform="translate(29.60,247.62) scale(1,1.1)" class="tk" fill="#2b86d3" stroke="#2b86d3" stroke-width="0.28" text-anchor="end">1</text>
<line x1="32.9" y1="228.25" x2="34.8" y2="228.25" stroke="#6aaee6" stroke-width="0.75"/>
<text transform="translate(29.60,231.30) scale(1,1.1)" class="tk" fill="#2b86d3" stroke="#2b86d3" stroke-width="0.28" text-anchor="end">1.5</text>
<line x1="32.9" y1="211.93" x2="34.8" y2="211.93" stroke="#6aaee6" stroke-width="0.75"/>
<text transform="translate(29.60,214.98) scale(1,1.1)" class="tk" fill="#2b86d3" stroke="#2b86d3" stroke-width="0.28" text-anchor="end">2</text>
<line x1="32.9" y1="195.60" x2="34.8" y2="195.60" stroke="#6aaee6" stroke-width="0.75"/>
<text transform="translate(29.60,198.65) scale(1,1.1)" class="tk" fill="#2b86d3" stroke="#2b86d3" stroke-width="0.28" text-anchor="end">2.5</text>
<line x1="212.4" y1="326.20" x2="210.5" y2="326.20" stroke="#ff9a70" stroke-width="0.75"/>
<text transform="translate(215.30,329.25) scale(1,1.1)" class="tk" fill="#fa6a3a" stroke="#fa6a3a" stroke-width="0.28">0</text>
<line x1="212.4" y1="307.54" x2="210.5" y2="307.54" stroke="#ff9a70" stroke-width="0.75"/>
<text transform="translate(215.30,310.59) scale(1,1.1)" class="tk" fill="#fa6a3a" stroke="#fa6a3a" stroke-width="0.28">10</text>
<line x1="212.4" y1="288.89" x2="210.5" y2="288.89" stroke="#ff9a70" stroke-width="0.75"/>
<text transform="translate(215.30,291.94) scale(1,1.1)" class="tk" fill="#fa6a3a" stroke="#fa6a3a" stroke-width="0.28">20</text>
<line x1="212.4" y1="270.23" x2="210.5" y2="270.23" stroke="#ff9a70" stroke-width="0.75"/>
<text transform="translate(215.30,273.28) scale(1,1.1)" class="tk" fill="#fa6a3a" stroke="#fa6a3a" stroke-width="0.28">30</text>
<line x1="212.4" y1="251.57" x2="210.5" y2="251.57" stroke="#ff9a70" stroke-width="0.75"/>
<text transform="translate(215.30,254.62) scale(1,1.1)" class="tk" fill="#fa6a3a" stroke="#fa6a3a" stroke-width="0.28">40</text>
<line x1="212.4" y1="232.91" x2="210.5" y2="232.91" stroke="#ff9a70" stroke-width="0.75"/>
<text transform="translate(215.30,235.96) scale(1,1.1)" class="tk" fill="#fa6a3a" stroke="#fa6a3a" stroke-width="0.28">50</text>
<line x1="212.4" y1="214.26" x2="210.5" y2="214.26" stroke="#ff9a70" stroke-width="0.75"/>
<text transform="translate(215.30,217.31) scale(1,1.1)" class="tk" fill="#fa6a3a" stroke="#fa6a3a" stroke-width="0.28">60</text>
<line x1="212.4" y1="195.60" x2="210.5" y2="195.60" stroke="#ff9a70" stroke-width="0.75"/>
<text transform="translate(215.30,198.65) scale(1,1.1)" class="tk" fill="#fa6a3a" stroke="#fa6a3a" stroke-width="0.28">70</text>
<rect x="164.8" y="201.4" width="42.00" height="18.90" fill="#fff" stroke="#5a5a5a" stroke-width="0.8"/>
<line x1="166.80" y1="206.50" x2="189.10" y2="206.50" stroke="#4d4d4d" stroke-width="0.9" stroke-dasharray="5.0 3.9"/>
<line x1="166.80" y1="215.20" x2="189.10" y2="215.20" stroke="#ff4d4d" stroke-width="0.9"/>
<text transform="translate(191.20,209.63) scale(1,1.1)" class="lg" fill="#222" stroke="#222" stroke-width="0.28">MLP</text>
<text transform="translate(191.20,218.33) scale(1,1.1)" class="lg" fill="#222" stroke="#222" stroke-width="0.28">PRN</text>
<text transform="translate(122.65,192.20) scale(1,1.1)" class="tt" fill="#111" stroke="#111" stroke-width="0.12" text-anchor="middle">Lebesgue measure</text>
<text transform="translate(122.65,346.60) scale(1,1.1)" class="xl" fill="#3d3d3d" stroke="#3d3d3d" stroke-width="0.28" text-anchor="middle">BMI</text>
<text transform="translate(13.40,260.90) rotate(-90) scale(1,1.1)" class="lb" fill="#2b86d3" stroke="#2b86d3" stroke-width="0.15" text-anchor="middle">Contribution to logit</text>
<text transform="translate(233.50,260.90) rotate(-90) scale(1,1.1)" class="lb" fill="#fa6a3a" stroke="#fa6a3a" stroke-width="0.15" text-anchor="middle">Frequency</text>
<text transform="translate(117.30,360.60) scale(1,1.0)" class="cp" fill="#111" text-anchor="middle">(c)</text>
<rect x="276.75" y="286.28" width="13.55" height="41.32" fill="#fff" stroke="#5e5e5e" stroke-width="0.85"/>
<rect x="290.30" y="202.53" width="13.55" height="125.07" fill="#fff" stroke="#5e5e5e" stroke-width="0.85"/>
<rect x="303.85" y="250.55" width="13.55" height="77.05" fill="#fff" stroke="#5e5e5e" stroke-width="0.85"/>
<rect x="317.40" y="276.23" width="13.55" height="51.37" fill="#fff" stroke="#5e5e5e" stroke-width="0.85"/>
<rect x="330.95" y="300.80" width="13.55" height="26.80" fill="#fff" stroke="#5e5e5e" stroke-width="0.85"/>
<rect x="344.50" y="317.55" width="13.55" height="10.05" fill="#fff" stroke="#5e5e5e" stroke-width="0.85"/>
<rect x="358.05" y="316.43" width="13.55" height="11.17" fill="#fff" stroke="#5e5e5e" stroke-width="0.85"/>
<rect x="371.60" y="326.48" width="13.55" height="1.12" fill="#fff" stroke="#5e5e5e" stroke-width="0.85"/>
<rect x="385.15" y="326.48" width="13.55" height="1.12" fill="#fff" stroke="#5e5e5e" stroke-width="0.85"/>
<rect x="398.70" y="326.48" width="13.55" height="1.12" fill="#fff" stroke="#5e5e5e" stroke-width="0.85"/>
<rect x="412.25" y="326.48" width="13.55" height="1.12" fill="#fff" stroke="#5e5e5e" stroke-width="0.85"/>
<rect x="425.80" y="325.81" width="13.55" height="1.79" fill="#fff" stroke="#5e5e5e" stroke-width="0.85"/>
<rect x="439.35" y="326.48" width="13.55" height="1.12" fill="#fff" stroke="#5e5e5e" stroke-width="0.85"/>
<path d="M282.40,307.28 C282.82,306.94 284.09,305.93 284.94,305.24 C285.78,304.56 286.63,303.87 287.48,303.17 C288.32,302.48 289.17,301.78 290.02,301.07 C290.86,300.36 291.71,299.65 292.55,298.93 C293.40,298.22 294.25,297.49 295.09,296.77 C295.94,296.04 296.79,295.31 297.63,294.58 C298.48,293.85 299.32,293.11 300.17,292.38 C301.02,291.64 301.86,290.90 302.71,290.15 C303.56,289.41 304.40,288.66 305.25,287.92 C306.09,287.17 306.94,286.42 307.79,285.67 C308.63,284.92 309.48,284.17 310.33,283.42 C311.17,282.67 312.02,281.91 312.86,281.16 C313.71,280.41 314.56,279.66 315.40,278.91 C316.25,278.15 317.10,277.40 317.94,276.65 C318.79,275.90 319.63,275.15 320.48,274.40 C321.33,273.65 322.17,272.91 323.02,272.16 C323.87,271.42 324.71,270.67 325.56,269.93 C326.40,269.19 327.25,268.45 328.10,267.71 C328.94,266.97 329.79,266.24 330.64,265.51 C331.48,264.77 332.33,264.05 333.17,263.32 C334.02,262.59 334.87,261.87 335.71,261.15 C336.56,260.43 337.41,259.71 338.25,259.00 C339.10,258.29 339.94,257.58 340.79,256.87 C341.64,256.17 342.48,255.47 343.33,254.77 C344.18,254.07 345.02,253.38 345.87,252.69 C346.71,252.01 347.56,251.32 348.41,250.64 C349.25,249.96 350.10,249.29 350.95,248.62 C351.79,247.95 352.64,247.28 353.48,246.62 C354.33,245.96 355.18,245.31 356.02,244.66 C356.87,244.01 357.72,243.37 358.56,242.73 C359.41,242.09 360.25,241.45 361.10,240.82 C361.95,240.20 362.79,239.57 363.64,238.96 C364.48,238.34 365.33,237.73 366.18,237.12 C367.02,236.51 367.87,235.91 368.72,235.32 C369.56,234.72 370.41,234.13 371.25,233.55 C372.10,232.96 372.95,232.38 373.79,231.81 C374.64,231.24 375.49,230.67 376.33,230.11 C377.18,229.55 378.02,228.99 378.87,228.44 C379.72,227.89 380.56,227.34 381.41,226.80 C382.26,226.26 383.10,225.73 383.95,225.20 C384.79,224.67 385.64,224.15 386.49,223.63 C387.33,223.11 388.18,222.60 389.03,222.10 C389.87,221.59 390.72,221.09 391.56,220.59 C392.41,220.09 393.26,219.60 394.10,219.12 C394.95,218.63 395.80,218.15 396.64,217.67 C397.49,217.19 398.33,216.72 399.18,216.26 C400.03,215.79 400.87,215.33 401.72,214.87 C402.57,214.41 403.41,213.96 404.26,213.51 C405.10,213.06 405.95,212.61 406.80,212.17 C407.64,211.73 408.49,211.29 409.34,210.86 C410.18,210.42 411.03,209.99 411.87,209.57 C412.72,209.14 413.57,208.72 414.41,208.30 C415.26,207.88 416.11,207.46 416.95,207.04 C417.80,206.63 418.64,206.22 419.49,205.81 C420.34,205.40 421.18,204.99 422.03,204.59 C422.88,204.18 423.72,203.78 424.57,203.38 C425.41,202.98 426.26,202.58 427.11,202.18 C427.95,201.78 428.80,201.38 429.65,200.99 C430.49,200.59 431.34,200.19 432.18,199.80 C433.03,199.40 433.88,199.01 434.72,198.61 C435.57,198.22 436.42,197.82 437.26,197.43 C438.11,197.03 439.38,196.44 439.80,196.24" fill="none" stroke="#4d4d4d" stroke-width="0.9" stroke-dasharray="5.0 3.9" stroke-linejoin="round"/>
<path d="M282.40,310.45 C282.82,310.03 284.07,308.78 284.90,307.94 C285.74,307.11 286.57,306.27 287.40,305.44 C288.24,304.60 289.07,303.77 289.91,302.93 C290.74,302.10 291.57,301.27 292.41,300.43 C293.24,299.60 294.08,298.77 294.91,297.93 C295.74,297.10 296.58,296.27 297.41,295.44 C298.24,294.61 299.08,293.78 299.91,292.96 C300.75,292.13 301.58,291.31 302.41,290.48 C303.25,289.66 304.08,288.84 304.92,288.02 C305.75,287.20 306.58,286.38 307.42,285.56 C308.25,284.75 309.09,283.94 309.92,283.13 C310.75,282.32 311.59,281.51 312.42,280.70 C313.26,279.90 314.09,279.10 314.92,278.30 C315.76,277.50 316.59,276.71 317.43,275.91 C318.26,275.12 319.09,274.33 319.93,273.55 C320.76,272.76 321.60,271.98 322.43,271.21 C323.26,270.43 324.10,269.66 324.93,268.89 C325.76,268.12 326.60,267.36 327.43,266.60 C328.27,265.84 329.10,265.08 329.93,264.33 C330.77,263.58 331.60,262.84 332.44,262.10 C333.27,261.36 334.10,260.62 334.94,259.89 C335.77,259.16 336.61,258.44 337.44,257.72 C338.27,257.00 339.11,256.29 339.94,255.58 C340.78,254.87 341.61,254.17 342.44,253.48 C343.28,252.78 344.11,252.10 344.95,251.41 C345.78,250.73 346.61,250.06 347.45,249.39 C348.28,248.72 349.12,248.06 349.95,247.41 C350.78,246.75 351.62,246.10 352.45,245.46 C353.28,244.82 354.12,244.19 354.95,243.57 C355.79,242.94 356.62,242.33 357.45,241.72 C358.29,241.11 359.12,240.51 359.96,239.91 C360.79,239.32 361.62,238.73 362.46,238.16 C363.29,237.58 364.13,237.01 364.96,236.46 C365.79,235.90 366.63,235.35 367.46,234.80 C368.30,234.26 369.13,233.73 369.96,233.21 C370.80,232.69 371.63,232.17 372.47,231.67 C373.30,231.16 374.13,230.67 374.97,230.19 C375.80,229.70 376.64,229.23 377.47,228.76 C378.30,228.30 379.14,227.84 379.97,227.40 C380.80,226.96 381.64,226.52 382.47,226.10 C383.31,225.68 384.14,225.27 384.97,224.87 C385.81,224.47 386.64,224.08 387.48,223.70 C388.31,223.32 389.14,222.95 389.98,222.60 C390.81,222.24 391.65,221.90 392.48,221.56 C393.31,221.23 394.15,220.91 394.98,220.60 C395.82,220.30 396.65,220.00 397.48,219.72 C398.32,219.43 399.15,219.16 399.99,218.90 C400.82,218.64 401.65,218.40 402.49,218.17 C403.32,217.93 404.16,217.71 404.99,217.51 C405.82,217.30 406.66,217.11 407.49,216.93 C408.32,216.75 409.16,216.58 409.99,216.43 C410.83,216.27 411.66,216.14 412.49,216.01 C413.33,215.89 414.16,215.78 415.00,215.68 C415.83,215.58 416.66,215.50 417.50,215.43 C418.33,215.37 419.58,215.30 420.00,215.28" fill="none" stroke="#ff4d4d" stroke-width="0.9" stroke-linejoin="round"/>
<line x1="273.4" y1="327.6" x2="453.8" y2="327.6" stroke="#5a5a5a" stroke-width="0.9"/>
<line x1="273.4" y1="193.6" x2="273.4" y2="327.6" stroke="#6aaee6" stroke-width="0.9"/>
<line x1="453.8" y1="193.6" x2="453.8" y2="327.6" stroke="#ff9a70" stroke-width="0.9"/>
<line x1="276.75" y1="327.6" x2="276.75" y2="325.70000000000005" stroke="#5a5a5a" stroke-width="0.75"/>
<text transform="translate(276.75,338.80) scale(1,1.1)" class="tk" fill="#3d3d3d" stroke="#3d3d3d" stroke-width="0.28" text-anchor="middle">0</text>
<line x1="297.07" y1="327.6" x2="297.07" y2="325.70000000000005" stroke="#5a5a5a" stroke-width="0.75"/>
<text transform="translate(297.07,338.80) scale(1,1.1)" class="tk" fill="#3d3d3d" stroke="#3d3d3d" stroke-width="0.28" text-anchor="middle">0.3</text>
<line x1="317.40" y1="327.6" x2="317.40" y2="325.70000000000005" stroke="#5a5a5a" stroke-width="0.75"/>
<text transform="translate(317.40,338.80) scale(1,1.1)" class="tk" fill="#3d3d3d" stroke="#3d3d3d" stroke-width="0.28" text-anchor="middle">0.6</text>
<line x1="337.73" y1="327.6" x2="337.73" y2="325.70000000000005" stroke="#5a5a5a" stroke-width="0.75"/>
<text transform="translate(337.73,338.80) scale(1,1.1)" class="tk" fill="#3d3d3d" stroke="#3d3d3d" stroke-width="0.28" text-anchor="middle">0.9</text>
<line x1="358.05" y1="327.6" x2="358.05" y2="325.70000000000005" stroke="#5a5a5a" stroke-width="0.75"/>
<text transform="translate(358.05,338.80) scale(1,1.1)" class="tk" fill="#3d3d3d" stroke="#3d3d3d" stroke-width="0.28" text-anchor="middle">1.2</text>
<line x1="378.38" y1="327.6" x2="378.38" y2="325.70000000000005" stroke="#5a5a5a" stroke-width="0.75"/>
<text transform="translate(378.38,338.80) scale(1,1.1)" class="tk" fill="#3d3d3d" stroke="#3d3d3d" stroke-width="0.28" text-anchor="middle">1.5</text>
<line x1="398.70" y1="327.6" x2="398.70" y2="325.70000000000005" stroke="#5a5a5a" stroke-width="0.75"/>
<text transform="translate(398.70,338.80) scale(1,1.1)" class="tk" fill="#3d3d3d" stroke="#3d3d3d" stroke-width="0.28" text-anchor="middle">1.8</text>
<line x1="419.02" y1="327.6" x2="419.02" y2="325.70000000000005" stroke="#5a5a5a" stroke-width="0.75"/>
<text transform="translate(419.02,338.80) scale(1,1.1)" class="tk" fill="#3d3d3d" stroke="#3d3d3d" stroke-width="0.28" text-anchor="middle">2.1</text>
<line x1="439.35" y1="327.6" x2="439.35" y2="325.70000000000005" stroke="#5a5a5a" stroke-width="0.75"/>
<text transform="translate(439.35,338.80) scale(1,1.1)" class="tk" fill="#3d3d3d" stroke="#3d3d3d" stroke-width="0.28" text-anchor="middle">2.4</text>
<line x1="273.4" y1="327.60" x2="275.29999999999995" y2="327.60" stroke="#6aaee6" stroke-width="0.75"/>
<text transform="translate(270.10,330.65) scale(1,1.1)" class="tk" fill="#2b86d3" stroke="#2b86d3" stroke-width="0.28" text-anchor="end">-1</text>
<line x1="273.4" y1="305.27" x2="275.29999999999995" y2="305.27" stroke="#6aaee6" stroke-width="0.75"/>
<text transform="translate(270.10,308.32) scale(1,1.1)" class="tk" fill="#2b86d3" stroke="#2b86d3" stroke-width="0.28" text-anchor="end">-0.5</text>
<line x1="273.4" y1="282.93" x2="275.29999999999995" y2="282.93" stroke="#6aaee6" stroke-width="0.75"/>
<text transform="translate(270.10,285.98) scale(1,1.1)" class="tk" fill="#2b86d3" stroke="#2b86d3" stroke-width="0.28" text-anchor="end">0</text>
<line x1="273.4" y1="260.60" x2="275.29999999999995" y2="260.60" stroke="#6aaee6" stroke-width="0.75"/>
<text transform="translate(270.10,263.65) scale(1,1.1)" class="tk" fill="#2b86d3" stroke="#2b86d3" stroke-width="0.28" text-anchor="end">0.5</text>
<line x1="273.4" y1="238.27" x2="275.29999999999995" y2="238.27" stroke="#6aaee6" stroke-width="0.75"/>
<text transform="translate(270.10,241.32) scale(1,1.1)" class="tk" fill="#2b86d3" stroke="#2b86d3" stroke-width="0.28" text-anchor="end">1</text>
<line x1="273.4" y1="215.93" x2="275.29999999999995" y2="215.93" stroke="#6aaee6" stroke-width="0.75"/>
<text transform="translate(270.10,218.98) scale(1,1.1)" class="tk" fill="#2b86d3" stroke="#2b86d3" stroke-width="0.28" text-anchor="end">1.5</text>
<line x1="273.4" y1="193.60" x2="275.29999999999995" y2="193.60" stroke="#6aaee6" stroke-width="0.75"/>
<text transform="translate(270.10,196.65) scale(1,1.1)" class="tk" fill="#2b86d3" stroke="#2b86d3" stroke-width="0.28" text-anchor="end">2</text>
<line x1="453.8" y1="327.60" x2="451.90000000000003" y2="327.60" stroke="#ff9a70" stroke-width="0.75"/>
<text transform="translate(456.70,330.65) scale(1,1.1)" class="tk" fill="#fa6a3a" stroke="#fa6a3a" stroke-width="0.28">0</text>
<line x1="453.8" y1="316.43" x2="451.90000000000003" y2="316.43" stroke="#ff9a70" stroke-width="0.75"/>
<text transform="translate(456.70,319.48) scale(1,1.1)" class="tk" fill="#fa6a3a" stroke="#fa6a3a" stroke-width="0.28">10</text>
<line x1="453.8" y1="305.27" x2="451.90000000000003" y2="305.27" stroke="#ff9a70" stroke-width="0.75"/>
<text transform="translate(456.70,308.32) scale(1,1.1)" class="tk" fill="#fa6a3a" stroke="#fa6a3a" stroke-width="0.28">20</text>
<line x1="453.8" y1="294.10" x2="451.90000000000003" y2="294.10" stroke="#ff9a70" stroke-width="0.75"/>
<text transform="translate(456.70,297.15) scale(1,1.1)" class="tk" fill="#fa6a3a" stroke="#fa6a3a" stroke-width="0.28">30</text>
<line x1="453.8" y1="282.93" x2="451.90000000000003" y2="282.93" stroke="#ff9a70" stroke-width="0.75"/>
<text transform="translate(456.70,285.98) scale(1,1.1)" class="tk" fill="#fa6a3a" stroke="#fa6a3a" stroke-width="0.28">40</text>
<line x1="453.8" y1="271.77" x2="451.90000000000003" y2="271.77" stroke="#ff9a70" stroke-width="0.75"/>
<text transform="translate(456.70,274.82) scale(1,1.1)" class="tk" fill="#fa6a3a" stroke="#fa6a3a" stroke-width="0.28">50</text>
<line x1="453.8" y1="260.60" x2="451.90000000000003" y2="260.60" stroke="#ff9a70" stroke-width="0.75"/>
<text transform="translate(456.70,263.65) scale(1,1.1)" class="tk" fill="#fa6a3a" stroke="#fa6a3a" stroke-width="0.28">60</text>
<line x1="453.8" y1="249.43" x2="451.90000000000003" y2="249.43" stroke="#ff9a70" stroke-width="0.75"/>
<text transform="translate(456.70,252.48) scale(1,1.1)" class="tk" fill="#fa6a3a" stroke="#fa6a3a" stroke-width="0.28">70</text>
<line x1="453.8" y1="238.27" x2="451.90000000000003" y2="238.27" stroke="#ff9a70" stroke-width="0.75"/>
<text transform="translate(456.70,241.32) scale(1,1.1)" class="tk" fill="#fa6a3a" stroke="#fa6a3a" stroke-width="0.28">80</text>
<line x1="453.8" y1="227.10" x2="451.90000000000003" y2="227.10" stroke="#ff9a70" stroke-width="0.75"/>
<text transform="translate(456.70,230.15) scale(1,1.1)" class="tk" fill="#fa6a3a" stroke="#fa6a3a" stroke-width="0.28">90</text>
<line x1="453.8" y1="215.93" x2="451.90000000000003" y2="215.93" stroke="#ff9a70" stroke-width="0.75"/>
<text transform="translate(456.70,218.98) scale(1,1.1)" class="tk" fill="#fa6a3a" stroke="#fa6a3a" stroke-width="0.28">100</text>
<line x1="453.8" y1="204.77" x2="451.90000000000003" y2="204.77" stroke="#ff9a70" stroke-width="0.75"/>
<text transform="translate(456.70,207.82) scale(1,1.1)" class="tk" fill="#fa6a3a" stroke="#fa6a3a" stroke-width="0.28">110</text>
<line x1="453.8" y1="193.60" x2="451.90000000000003" y2="193.60" stroke="#ff9a70" stroke-width="0.75"/>
<text transform="translate(456.70,196.65) scale(1,1.1)" class="tk" fill="#fa6a3a" stroke="#fa6a3a" stroke-width="0.28">120</text>
<rect x="404.1" y="199.3" width="43.40" height="20.90" fill="#fff" stroke="#5a5a5a" stroke-width="0.8"/>
<line x1="406.10" y1="204.94" x2="428.40" y2="204.94" stroke="#4d4d4d" stroke-width="0.9" stroke-dasharray="5.0 3.9"/>
<line x1="406.10" y1="214.56" x2="428.40" y2="214.56" stroke="#ff4d4d" stroke-width="0.9"/>
<text transform="translate(430.50,208.07) scale(1,1.1)" class="lg" fill="#222" stroke="#222" stroke-width="0.28">MLP</text>
<text transform="translate(430.50,217.69) scale(1,1.1)" class="lg" fill="#222" stroke="#222" stroke-width="0.28">PRN</text>
<text transform="translate(363.60,190.10) scale(1,1.1)" class="tt" fill="#111" stroke="#111" stroke-width="0.12" text-anchor="middle">Lebesgue measure</text>
<text transform="translate(363.60,349.00) scale(1,1.1)" class="xl" fill="#3d3d3d" stroke="#3d3d3d" stroke-width="0.28" text-anchor="middle">DPF</text>
<text transform="translate(254.10,260.60) rotate(-90) scale(1,1.1)" class="lb" fill="#2b86d3" stroke="#2b86d3" stroke-width="0.15" text-anchor="middle">Contribution to logit</text>
<text transform="translate(479.40,260.60) rotate(-90) scale(1,1.1)" class="lb" fill="#fa6a3a" stroke="#fa6a3a" stroke-width="0.15" text-anchor="middle">Frequency</text>
<text transform="translate(360.70,360.60) scale(1,1.0)" class="cp" fill="#111" text-anchor="middle">(d)</text>
<rect x="154.40" y="403.38" width="4.00" height="107.52" fill="#fff" stroke="#5e5e5e" stroke-width="0.85"/>
<rect x="158.40" y="380.34" width="4.00" height="130.56" fill="#fff" stroke="#5e5e5e" stroke-width="0.85"/>
<rect x="162.40" y="441.78" width="4.00" height="69.12" fill="#fff" stroke="#5e5e5e" stroke-width="0.85"/>
<rect x="166.40" y="414.90" width="4.00" height="96.00" fill="#fff" stroke="#5e5e5e" stroke-width="0.85"/>
<rect x="170.40" y="414.90" width="4.00" height="96.00" fill="#fff" stroke="#5e5e5e" stroke-width="0.85"/>
<rect x="174.40" y="437.94" width="4.00" height="72.96" fill="#fff" stroke="#5e5e5e" stroke-width="0.85"/>
<rect x="178.40" y="476.34" width="4.00" height="34.56" fill="#fff" stroke="#5e5e5e" stroke-width="0.85"/>
<rect x="182.40" y="464.82" width="4.00" height="46.08" fill="#fff" stroke="#5e5e5e" stroke-width="0.85"/>
<rect x="186.40" y="464.82" width="4.00" height="46.08" fill="#fff" stroke="#5e5e5e" stroke-width="0.85"/>
<rect x="190.40" y="472.50" width="4.00" height="38.40" fill="#fff" stroke="#5e5e5e" stroke-width="0.85"/>
<rect x="194.40" y="468.66" width="4.00" height="42.24" fill="#fff" stroke="#5e5e5e" stroke-width="0.85"/>
<rect x="198.40" y="487.86" width="4.00" height="23.04" fill="#fff" stroke="#5e5e5e" stroke-width="0.85"/>
<rect x="202.40" y="476.34" width="4.00" height="34.56" fill="#fff" stroke="#5e5e5e" stroke-width="0.85"/>
<rect x="206.40" y="491.70" width="4.00" height="19.20" fill="#fff" stroke="#5e5e5e" stroke-width="0.85"/>
<rect x="210.40" y="495.54" width="4.00" height="15.36" fill="#fff" stroke="#5e5e5e" stroke-width="0.85"/>
<rect x="214.40" y="476.34" width="4.00" height="34.56" fill="#fff" stroke="#5e5e5e" stroke-width="0.85"/>
<rect x="218.40" y="491.70" width="4.00" height="19.20" fill="#fff" stroke="#5e5e5e" stroke-width="0.85"/>
<rect x="222.40" y="484.02" width="4.00" height="26.88" fill="#fff" stroke="#5e5e5e" stroke-width="0.85"/>
<rect x="226.40" y="495.54" width="4.00" height="15.36" fill="#fff" stroke="#5e5e5e" stroke-width="0.85"/>
<rect x="230.40" y="499.38" width="4.00" height="11.52" fill="#fff" stroke="#5e5e5e" stroke-width="0.85"/>
<rect x="234.40" y="476.34" width="4.00" height="34.56" fill="#fff" stroke="#5e5e5e" stroke-width="0.85"/>
<rect x="238.40" y="491.70" width="4.00" height="19.20" fill="#fff" stroke="#5e5e5e" stroke-width="0.85"/>
<rect x="242.40" y="491.70" width="4.00" height="19.20" fill="#fff" stroke="#5e5e5e" stroke-width="0.85"/>
<rect x="246.40" y="507.06" width="4.00" height="3.84" fill="#fff" stroke="#5e5e5e" stroke-width="0.85"/>
<rect x="250.40" y="491.70" width="4.00" height="19.20" fill="#fff" stroke="#5e5e5e" stroke-width="0.85"/>
<rect x="254.40" y="487.86" width="4.00" height="23.04" fill="#fff" stroke="#5e5e5e" stroke-width="0.85"/>
<rect x="258.40" y="503.22" width="4.00" height="7.68" fill="#fff" stroke="#5e5e5e" stroke-width="0.85"/>
<rect x="262.40" y="503.22" width="4.00" height="7.68" fill="#fff" stroke="#5e5e5e" stroke-width="0.85"/>
<rect x="266.40" y="503.22" width="4.00" height="7.68" fill="#fff" stroke="#5e5e5e" stroke-width="0.85"/>
<rect x="270.40" y="507.06" width="4.00" height="3.84" fill="#fff" stroke="#5e5e5e" stroke-width="0.85"/>
<rect x="274.40" y="491.70" width="4.00" height="19.20" fill="#fff" stroke="#5e5e5e" stroke-width="0.85"/>
<rect x="282.40" y="507.06" width="4.00" height="3.84" fill="#fff" stroke="#5e5e5e" stroke-width="0.85"/>
<rect x="286.40" y="507.06" width="4.00" height="3.84" fill="#fff" stroke="#5e5e5e" stroke-width="0.85"/>
<rect x="290.40" y="507.06" width="4.00" height="3.84" fill="#fff" stroke="#5e5e5e" stroke-width="0.85"/>
<rect x="294.40" y="507.06" width="4.00" height="3.84" fill="#fff" stroke="#5e5e5e" stroke-width="0.85"/>
<rect x="298.40" y="503.22" width="4.00" height="7.68" fill="#fff" stroke="#5e5e5e" stroke-width="0.85"/>
<rect x="302.40" y="499.38" width="4.00" height="11.52" fill="#fff" stroke="#5e5e5e" stroke-width="0.85"/>
<rect x="306.40" y="507.06" width="4.00" height="3.84" fill="#fff" stroke="#5e5e5e" stroke-width="0.85"/>
<rect x="310.40" y="499.38" width="4.00" height="11.52" fill="#fff" stroke="#5e5e5e" stroke-width="0.85"/>
<rect x="314.40" y="507.06" width="4.00" height="3.84" fill="#fff" stroke="#5e5e5e" stroke-width="0.85"/>
<rect x="322.40" y="507.06" width="4.00" height="3.84" fill="#fff" stroke="#5e5e5e" stroke-width="0.85"/>
<rect x="330.40" y="507.06" width="4.00" height="3.84" fill="#fff" stroke="#5e5e5e" stroke-width="0.85"/>
<path d="M156.10,476.56 C156.52,476.14 157.78,474.88 158.62,474.02 C159.45,473.16 160.29,472.29 161.13,471.40 C161.97,470.52 162.81,469.62 163.65,468.72 C164.49,467.82 165.32,466.90 166.16,465.98 C167.00,465.06 167.84,464.13 168.68,463.20 C169.52,462.27 170.36,461.33 171.19,460.39 C172.03,459.45 172.87,458.50 173.71,457.56 C174.55,456.61 175.39,455.66 176.23,454.71 C177.06,453.76 177.90,452.81 178.74,451.86 C179.58,450.92 180.42,449.97 181.26,449.03 C182.10,448.08 182.93,447.14 183.77,446.21 C184.61,445.27 185.45,444.34 186.29,443.41 C187.13,442.48 187.97,441.56 188.80,440.65 C189.64,439.73 190.48,438.82 191.32,437.92 C192.16,437.02 193.00,436.13 193.84,435.25 C194.67,434.37 195.51,433.49 196.35,432.63 C197.19,431.76 198.03,430.91 198.87,430.07 C199.71,429.22 200.54,428.39 201.38,427.57 C202.22,426.75 203.06,425.94 203.90,425.15 C204.74,424.35 205.58,423.57 206.41,422.80 C207.25,422.03 208.09,421.28 208.93,420.54 C209.77,419.80 210.61,419.07 211.45,418.36 C212.28,417.65 213.12,416.95 213.96,416.27 C214.80,415.59 215.64,414.92 216.48,414.27 C217.32,413.62 218.15,412.99 218.99,412.37 C219.83,411.75 220.67,411.15 221.51,410.56 C222.35,409.98 223.19,409.41 224.02,408.86 C224.86,408.31 225.70,407.78 226.54,407.26 C227.38,406.75 228.22,406.25 229.06,405.77 C229.89,405.29 230.73,404.83 231.57,404.38 C232.41,403.94 233.25,403.51 234.09,403.10 C234.93,402.69 235.76,402.30 236.60,401.93 C237.44,401.56 238.28,401.20 239.12,400.87 C239.96,400.53 240.80,400.21 241.63,399.91 C242.47,399.61 243.31,399.33 244.15,399.07 C244.99,398.80 245.83,398.56 246.67,398.33 C247.50,398.10 248.34,397.89 249.18,397.70 C250.02,397.51 250.86,397.33 251.70,397.17 C252.54,397.02 253.37,396.88 254.21,396.76 C255.05,396.63 255.89,396.53 256.73,396.44 C257.57,396.35 258.41,396.28 259.24,396.23 C260.08,396.17 260.92,396.14 261.76,396.11 C262.60,396.09 263.44,396.09 264.28,396.10 C265.11,396.11 265.95,396.13 266.79,396.18 C267.63,396.22 268.47,396.28 269.31,396.35 C270.15,396.42 270.98,396.51 271.82,396.61 C272.66,396.71 273.50,396.82 274.34,396.95 C275.18,397.08 276.02,397.22 276.85,397.38 C277.69,397.54 278.53,397.71 279.37,397.89 C280.21,398.07 281.05,398.26 281.89,398.47 C282.72,398.67 283.56,398.89 284.40,399.12 C285.24,399.35 286.08,399.59 286.92,399.84 C287.76,400.09 288.59,400.35 289.43,400.62 C290.27,400.89 291.11,401.17 291.95,401.46 C292.79,401.75 293.63,402.04 294.46,402.35 C295.30,402.65 296.14,402.97 296.98,403.29 C297.82,403.61 298.66,403.93 299.50,404.27 C300.33,404.60 301.17,404.94 302.01,405.28 C302.85,405.63 303.69,405.98 304.53,406.33 C305.37,406.69 306.20,407.05 307.04,407.41 C307.88,407.77 308.72,408.14 309.56,408.50 C310.40,408.87 311.24,409.24 312.07,409.61 C312.91,409.99 313.75,410.36 314.59,410.73 C315.43,411.11 316.27,411.48 317.11,411.85 C317.94,412.23 318.78,412.60 319.62,412.97 C320.46,413.34 321.30,413.71 322.14,414.08 C322.98,414.45 323.81,414.81 324.65,415.17 C325.49,415.53 326.33,415.89 327.17,416.24 C328.01,416.59 328.85,416.94 329.68,417.28 C330.52,417.62 331.78,418.11 332.20,418.28" fill="none" stroke="#4d4d4d" stroke-width="0.9" stroke-dasharray="5.0 3.9" stroke-linejoin="round"/>
<path d="M156.10,503.37 C156.52,502.46 157.78,499.72 158.62,497.87 C159.45,496.02 160.29,494.14 161.13,492.25 C161.97,490.36 162.81,488.45 163.65,486.54 C164.49,484.63 165.32,482.71 166.16,480.79 C167.00,478.87 167.84,476.94 168.68,475.02 C169.52,473.10 170.36,471.17 171.19,469.26 C172.03,467.34 172.87,465.43 173.71,463.54 C174.55,461.64 175.39,459.75 176.23,457.89 C177.06,456.02 177.90,454.16 178.74,452.32 C179.58,450.49 180.42,448.67 181.26,446.87 C182.10,445.08 182.93,443.30 183.77,441.55 C184.61,439.81 185.45,438.08 186.29,436.39 C187.13,434.69 187.97,433.03 188.80,431.39 C189.64,429.76 190.48,428.15 191.32,426.58 C192.16,425.01 193.00,423.47 193.84,421.96 C194.67,420.46 195.51,418.99 196.35,417.56 C197.19,416.13 198.03,414.73 198.87,413.37 C199.71,412.02 200.54,410.70 201.38,409.42 C202.22,408.14 203.06,406.90 203.90,405.71 C204.74,404.51 205.58,403.35 206.41,402.24 C207.25,401.13 208.09,400.05 208.93,399.02 C209.77,397.99 210.61,397.01 211.45,396.06 C212.28,395.12 213.12,394.22 213.96,393.36 C214.80,392.50 215.64,391.69 216.48,390.92 C217.32,390.14 218.15,389.42 218.99,388.73 C219.83,388.05 220.67,387.41 221.51,386.81 C222.35,386.22 223.19,385.66 224.02,385.15 C224.86,384.64 225.70,384.18 226.54,383.75 C227.38,383.33 228.22,382.94 229.06,382.60 C229.89,382.26 230.73,381.96 231.57,381.71 C232.41,381.45 233.25,381.23 234.09,381.06 C234.93,380.88 235.76,380.74 236.60,380.65 C237.44,380.55 238.28,380.49 239.12,380.47 C239.96,380.45 240.80,380.47 241.63,380.53 C242.47,380.58 243.31,380.68 244.15,380.80 C244.99,380.93 245.83,381.10 246.67,381.29 C247.50,381.49 248.34,381.72 249.18,381.99 C250.02,382.25 250.86,382.55 251.70,382.88 C252.54,383.20 253.37,383.56 254.21,383.95 C255.05,384.34 255.89,384.76 256.73,385.21 C257.57,385.65 258.41,386.13 259.24,386.63 C260.08,387.13 260.92,387.66 261.76,388.21 C262.60,388.76 263.44,389.33 264.28,389.93 C265.11,390.53 265.95,391.15 266.79,391.79 C267.63,392.44 268.47,393.10 269.31,393.78 C270.15,394.47 270.98,395.17 271.82,395.89 C272.66,396.61 273.50,397.34 274.34,398.10 C275.18,398.85 276.02,399.62 276.85,400.40 C277.69,401.18 278.53,401.98 279.37,402.79 C280.21,403.59 281.05,404.42 281.89,405.25 C282.72,406.08 283.56,406.92 284.40,407.77 C285.24,408.62 286.08,409.48 286.92,410.35 C287.76,411.21 288.59,412.09 289.43,412.97 C290.27,413.84 291.11,414.73 291.95,415.62 C292.79,416.51 293.63,417.40 294.46,418.30 C295.30,419.19 296.14,420.09 296.98,420.99 C297.82,421.89 298.66,422.80 299.50,423.70 C300.33,424.60 301.17,425.50 302.01,426.40 C302.85,427.30 303.69,428.20 304.53,429.10 C305.37,430.00 306.20,430.89 307.04,431.79 C307.88,432.68 308.72,433.57 309.56,434.45 C310.40,435.34 311.24,436.22 312.07,437.10 C312.91,437.98 313.75,438.85 314.59,439.72 C315.43,440.58 316.27,441.45 317.11,442.30 C317.94,443.16 318.78,444.01 319.62,444.86 C320.46,445.70 321.30,446.54 322.14,447.38 C322.98,448.21 323.81,449.04 324.65,449.86 C325.49,450.68 326.33,451.50 327.17,452.31 C328.01,453.12 328.85,453.93 329.68,454.73 C330.52,455.53 331.78,456.71 332.20,457.11" fill="none" stroke="#ff4d4d" stroke-width="0.9" stroke-linejoin="round"/>
<line x1="152.1" y1="510.9" x2="336.4" y2="510.9" stroke="#5a5a5a" stroke-width="0.9"/>
<line x1="152.1" y1="376.5" x2="152.1" y2="510.9" stroke="#6aaee6" stroke-width="0.9"/>
<line x1="336.4" y1="376.5" x2="336.4" y2="510.9" stroke="#ff9a70" stroke-width="0.9"/>
<line x1="152.40" y1="510.9" x2="152.40" y2="509.0" stroke="#5a5a5a" stroke-width="0.75"/>
<text transform="translate(152.40,522.10) scale(1,1.1)" class="tk" fill="#3d3d3d" stroke="#3d3d3d" stroke-width="0.28" text-anchor="middle">20</text>
<line x1="172.40" y1="510.9" x2="172.40" y2="509.0" stroke="#5a5a5a" stroke-width="0.75"/>
<text transform="translate(172.40,522.10) scale(1,1.1)" class="tk" fill="#3d3d3d" stroke="#3d3d3d" stroke-width="0.28" text-anchor="middle">25</text>
<line x1="192.40" y1="510.9" x2="192.40" y2="509.0" stroke="#5a5a5a" stroke-width="0.75"/>
<text transform="translate(192.40,522.10) scale(1,1.1)" class="tk" fill="#3d3d3d" stroke="#3d3d3d" stroke-width="0.28" text-anchor="middle">30</text>
<line x1="212.40" y1="510.9" x2="212.40" y2="509.0" stroke="#5a5a5a" stroke-width="0.75"/>
<text transform="translate(212.40,522.10) scale(1,1.1)" class="tk" fill="#3d3d3d" stroke="#3d3d3d" stroke-width="0.28" text-anchor="middle">35</text>
<line x1="232.40" y1="510.9" x2="232.40" y2="509.0" stroke="#5a5a5a" stroke-width="0.75"/>
<text transform="translate(232.40,522.10) scale(1,1.1)" class="tk" fill="#3d3d3d" stroke="#3d3d3d" stroke-width="0.28" text-anchor="middle">40</text>
<line x1="252.40" y1="510.9" x2="252.40" y2="509.0" stroke="#5a5a5a" stroke-width="0.75"/>
<text transform="translate(252.40,522.10) scale(1,1.1)" class="tk" fill="#3d3d3d" stroke="#3d3d3d" stroke-width="0.28" text-anchor="middle">45</text>
<line x1="272.40" y1="510.9" x2="272.40" y2="509.0" stroke="#5a5a5a" stroke-width="0.75"/>
<text transform="translate(272.40,522.10) scale(1,1.1)" class="tk" fill="#3d3d3d" stroke="#3d3d3d" stroke-width="0.28" text-anchor="middle">50</text>
<line x1="292.40" y1="510.9" x2="292.40" y2="509.0" stroke="#5a5a5a" stroke-width="0.75"/>
<text transform="translate(292.40,522.10) scale(1,1.1)" class="tk" fill="#3d3d3d" stroke="#3d3d3d" stroke-width="0.28" text-anchor="middle">55</text>
<line x1="312.40" y1="510.9" x2="312.40" y2="509.0" stroke="#5a5a5a" stroke-width="0.75"/>
<text transform="translate(312.40,522.10) scale(1,1.1)" class="tk" fill="#3d3d3d" stroke="#3d3d3d" stroke-width="0.28" text-anchor="middle">60</text>
<line x1="332.40" y1="510.9" x2="332.40" y2="509.0" stroke="#5a5a5a" stroke-width="0.75"/>
<text transform="translate(332.40,522.10) scale(1,1.1)" class="tk" fill="#3d3d3d" stroke="#3d3d3d" stroke-width="0.28" text-anchor="middle">65</text>
<line x1="152.1" y1="510.90" x2="154.0" y2="510.90" stroke="#6aaee6" stroke-width="0.75"/>
<text transform="translate(148.80,513.95) scale(1,1.1)" class="tk" fill="#2b86d3" stroke="#2b86d3" stroke-width="0.28" text-anchor="end">-0.8</text>
<line x1="152.1" y1="494.10" x2="154.0" y2="494.10" stroke="#6aaee6" stroke-width="0.75"/>
<text transform="translate(148.80,497.15) scale(1,1.1)" class="tk" fill="#2b86d3" stroke="#2b86d3" stroke-width="0.28" text-anchor="end">-0.6</text>
<line x1="152.1" y1="477.30" x2="154.0" y2="477.30" stroke="#6aaee6" stroke-width="0.75"/>
<text transform="translate(148.80,480.35) scale(1,1.1)" class="tk" fill="#2b86d3" stroke="#2b86d3" stroke-width="0.28" text-anchor="end">-0.4</text>
<line x1="152.1" y1="460.50" x2="154.0" y2="460.50" stroke="#6aaee6" stroke-width="0.75"/>
<text transform="translate(148.80,463.55) scale(1,1.1)" class="tk" fill="#2b86d3" stroke="#2b86d3" stroke-width="0.28" text-anchor="end">-0.2</text>
<line x1="152.1" y1="443.70" x2="154.0" y2="443.70" stroke="#6aaee6" stroke-width="0.75"/>
<text transform="translate(148.80,446.75) scale(1,1.1)" class="tk" fill="#2b86d3" stroke="#2b86d3" stroke-width="0.28" text-anchor="end">0</text>
<line x1="152.1" y1="426.90" x2="154.0" y2="426.90" stroke="#6aaee6" stroke-width="0.75"/>
<text transform="translate(148.80,429.95) scale(1,1.1)" class="tk" fill="#2b86d3" stroke="#2b86d3" stroke-width="0.28" text-anchor="end">0.2</text>
<line x1="152.1" y1="410.10" x2="154.0" y2="410.10" stroke="#6aaee6" stroke-width="0.75"/>
<text transform="translate(148.80,413.15) scale(1,1.1)" class="tk" fill="#2b86d3" stroke="#2b86d3" stroke-width="0.28" text-anchor="end">0.4</text>
<line x1="152.1" y1="393.30" x2="154.0" y2="393.30" stroke="#6aaee6" stroke-width="0.75"/>
<text transform="translate(148.80,396.35) scale(1,1.1)" class="tk" fill="#2b86d3" stroke="#2b86d3" stroke-width="0.28" text-anchor="end">0.6</text>
<line x1="336.4" y1="510.90" x2="334.5" y2="510.90" stroke="#ff9a70" stroke-width="0.75"/>
<text transform="translate(339.30,513.95) scale(1,1.1)" class="tk" fill="#fa6a3a" stroke="#fa6a3a" stroke-width="0.28">0</text>
<line x1="336.4" y1="491.70" x2="334.5" y2="491.70" stroke="#ff9a70" stroke-width="0.75"/>
<text transform="translate(339.30,494.75) scale(1,1.1)" class="tk" fill="#fa6a3a" stroke="#fa6a3a" stroke-width="0.28">5</text>
<line x1="336.4" y1="472.50" x2="334.5" y2="472.50" stroke="#ff9a70" stroke-width="0.75"/>
<text transform="translate(339.30,475.55) scale(1,1.1)" class="tk" fill="#fa6a3a" stroke="#fa6a3a" stroke-width="0.28">10</text>
<line x1="336.4" y1="453.30" x2="334.5" y2="453.30" stroke="#ff9a70" stroke-width="0.75"/>
<text transform="translate(339.30,456.35) scale(1,1.1)" class="tk" fill="#fa6a3a" stroke="#fa6a3a" stroke-width="0.28">15</text>
<line x1="336.4" y1="434.10" x2="334.5" y2="434.10" stroke="#ff9a70" stroke-width="0.75"/>
<text transform="translate(339.30,437.15) scale(1,1.1)" class="tk" fill="#fa6a3a" stroke="#fa6a3a" stroke-width="0.28">20</text>
<line x1="336.4" y1="414.90" x2="334.5" y2="414.90" stroke="#ff9a70" stroke-width="0.75"/>
<text transform="translate(339.30,417.95) scale(1,1.1)" class="tk" fill="#fa6a3a" stroke="#fa6a3a" stroke-width="0.28">25</text>
<line x1="336.4" y1="395.70" x2="334.5" y2="395.70" stroke="#ff9a70" stroke-width="0.75"/>
<text transform="translate(339.30,398.75) scale(1,1.1)" class="tk" fill="#fa6a3a" stroke="#fa6a3a" stroke-width="0.28">30</text>
<line x1="336.4" y1="376.50" x2="334.5" y2="376.50" stroke="#ff9a70" stroke-width="0.75"/>
<text transform="translate(339.30,379.55) scale(1,1.1)" class="tk" fill="#fa6a3a" stroke="#fa6a3a" stroke-width="0.28">35</text>
<rect x="287.2" y="382.5" width="43.40" height="19.60" fill="#fff" stroke="#5a5a5a" stroke-width="0.8"/>
<line x1="289.20" y1="387.79" x2="311.50" y2="387.79" stroke="#4d4d4d" stroke-width="0.9" stroke-dasharray="5.0 3.9"/>
<line x1="289.20" y1="396.81" x2="311.50" y2="396.81" stroke="#ff4d4d" stroke-width="0.9"/>
<text transform="translate(313.60,390.92) scale(1,1.1)" class="lg" fill="#222" stroke="#222" stroke-width="0.28">MLP</text>
<text transform="translate(313.60,399.94) scale(1,1.1)" class="lg" fill="#222" stroke="#222" stroke-width="0.28">PRN</text>
<text transform="translate(244.25,373.00) scale(1,1.1)" class="tt" fill="#111" stroke="#111" stroke-width="0.12" text-anchor="middle">Lebesgue measure</text>
<text transform="translate(244.25,531.60) scale(1,1.1)" class="xl" fill="#3d3d3d" stroke="#3d3d3d" stroke-width="0.28" text-anchor="middle">Age</text>
<text transform="translate(131.50,443.70) rotate(-90) scale(1,1.1)" class="lb" fill="#2b86d3" stroke="#2b86d3" stroke-width="0.15" text-anchor="middle">Contribution to logit</text>
<text transform="translate(358.40,443.70) rotate(-90) scale(1,1.1)" class="lb" fill="#fa6a3a" stroke="#fa6a3a" stroke-width="0.15" text-anchor="middle">Frequency</text>
<text transform="translate(240.40,544.00) scale(1,1.0)" class="cp" fill="#111" text-anchor="middle">(e)</text>
</svg>
</body></html>
